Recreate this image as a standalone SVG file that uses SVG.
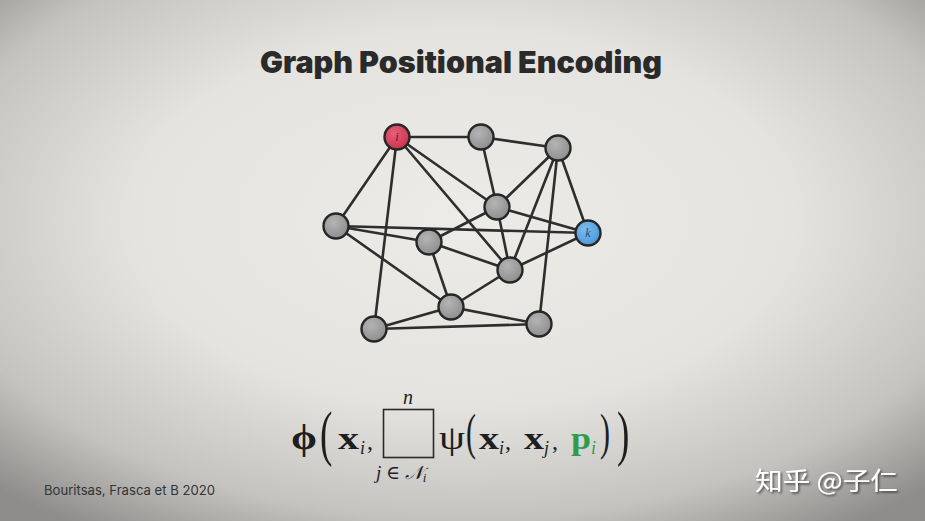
<svg xmlns="http://www.w3.org/2000/svg" width="925" height="521" viewBox="0 0 925 521">
  <defs>
    <radialGradient id="bg" cx="50%" cy="42%" r="72%">
      <stop offset="0" stop-color="#ecebe8"/>
      <stop offset="0.5" stop-color="#e4e3e0"/>
      <stop offset="0.8" stop-color="#c4c3c0"/>
      <stop offset="1" stop-color="#8e8d8b"/>
    </radialGradient>
    <radialGradient id="gray" cx="40%" cy="35%" r="70%">
      <stop offset="0" stop-color="#b4b4b4"/>
      <stop offset="1" stop-color="#8c8c8c"/>
    </radialGradient>
    <radialGradient id="red" cx="40%" cy="35%" r="70%">
      <stop offset="0" stop-color="#e8607a"/>
      <stop offset="1" stop-color="#c8304a"/>
    </radialGradient>
    <radialGradient id="blue" cx="40%" cy="35%" r="70%">
      <stop offset="0" stop-color="#7dbcf0"/>
      <stop offset="1" stop-color="#4a96d8"/>
    </radialGradient>
    <filter id="shadow" x="-10%" y="-20%" width="130%" height="150%">
      <feDropShadow dx="1.5" dy="1.5" stdDeviation="1" flood-color="#000" flood-opacity="0.6"/>
    </filter>
  </defs>
  <style>
    .edge { stroke: #2e2e2e; stroke-width: 2.6; stroke-linecap: round; fill: none; }
    .node { stroke: #262626; stroke-width: 2.4; }
    .lbl { font-family: "Liberation Serif", serif; font-style: italic; font-size: 12px; text-anchor: middle; }
    .m { font-family: "Liberation Serif", "DejaVu Serif", serif; fill: #1e1e1e; }
    .m.g { fill: #2f9c4c; }
    .b { font-weight: bold; }
    .it { font-style: italic; }
  </style>
  <rect width="925" height="521" fill="url(#bg)"/>

  <text x="461" y="73" text-anchor="middle" font-family="Inter, Lato, sans-serif" font-weight="900" font-size="30" fill="#2a2a2a" textLength="402" lengthAdjust="spacingAndGlyphs">Graph Positional Encoding</text>

  <g id="edges">
    <line class="edge" x1="397" y1="137" x2="481" y2="137"/>
    <line class="edge" x1="481" y1="137" x2="558" y2="148"/>
    <line class="edge" x1="397" y1="137" x2="336" y2="226"/>
    <line class="edge" x1="397" y1="137" x2="374" y2="329"/>
    <line class="edge" x1="397" y1="137" x2="497" y2="207"/>
    <line class="edge" x1="397" y1="137" x2="510" y2="270"/>
    <line class="edge" x1="481" y1="137" x2="497" y2="207"/>
    <line class="edge" x1="558" y1="148" x2="497" y2="207"/>
    <line class="edge" x1="558" y1="148" x2="510" y2="270"/>
    <line class="edge" x1="558" y1="148" x2="588" y2="233"/>
    <line class="edge" x1="558" y1="148" x2="539" y2="324"/>
    <line class="edge" x1="497" y1="207" x2="429" y2="242"/>
    <line class="edge" x1="497" y1="207" x2="588" y2="233"/>
    <line class="edge" x1="497" y1="207" x2="510" y2="270"/>
    <line class="edge" x1="336" y1="226" x2="588" y2="233"/>
    <line class="edge" x1="336" y1="226" x2="429" y2="242"/>
    <line class="edge" x1="336" y1="226" x2="451" y2="307"/>
    <line class="edge" x1="429" y1="242" x2="510" y2="270"/>
    <line class="edge" x1="429" y1="242" x2="451" y2="307"/>
    <line class="edge" x1="510" y1="270" x2="588" y2="233"/>
    <line class="edge" x1="510" y1="270" x2="451" y2="307"/>
    <line class="edge" x1="451" y1="307" x2="374" y2="329"/>
    <line class="edge" x1="451" y1="307" x2="539" y2="324"/>
    <line class="edge" x1="374" y1="329" x2="539" y2="324"/>
  </g>

  <g id="node-i"><circle class="node" cx="397" cy="137" r="12.5" fill="url(#red)"/><text class="lbl" x="397" y="141" fill="#6a1020">i</text></g>
  <g id="node-a"><circle class="node" cx="481" cy="137" r="12.5" fill="url(#gray)"/></g>
  <g id="node-b"><circle class="node" cx="558" cy="148" r="12.5" fill="url(#gray)"/></g>
  <g id="node-c"><circle class="node" cx="497" cy="207" r="12.5" fill="url(#gray)"/></g>
  <g id="node-d"><circle class="node" cx="336" cy="226" r="12.5" fill="url(#gray)"/></g>
  <g id="node-k"><circle class="node" cx="588" cy="233" r="12.5" fill="url(#blue)"/><text class="lbl" x="588" y="237" fill="#1d4a78">k</text></g>
  <g id="node-e"><circle class="node" cx="429" cy="242" r="12.5" fill="url(#gray)"/></g>
  <g id="node-f"><circle class="node" cx="510" cy="270" r="12.5" fill="url(#gray)"/></g>
  <g id="node-g"><circle class="node" cx="451" cy="307" r="12.5" fill="url(#gray)"/></g>
  <g id="node-h"><circle class="node" cx="374" cy="329" r="12.5" fill="url(#gray)"/></g>
  <g id="node-j"><circle class="node" cx="539" cy="324" r="12.5" fill="url(#gray)"/></g>

  <g id="formula">
    <text class="m b" x="291" y="449" font-size="35" font-family="'DejaVu Serif', serif" textLength="26" lengthAdjust="spacingAndGlyphs">ϕ</text>
    <text class="m" transform="translate(320,454) scale(0.6,1)" font-size="62">(</text>
    <text class="m b" x="338" y="449" font-size="32" textLength="21" lengthAdjust="spacingAndGlyphs">x</text>
    <text class="m it" x="360" y="454" font-size="18">i</text>
    <text class="m" x="367" y="449" font-size="24">,</text>
    <rect x="383.5" y="409.5" width="50" height="48" fill="none" stroke="#2a2a2a" stroke-width="1.6"/>
    <text class="m it" x="408" y="404" font-size="20" text-anchor="middle">n</text>
    <text class="m it" x="376" y="479" font-size="19">j <tspan font-style="normal">∈</tspan> 𝒩<tspan font-size="13" dy="3">i</tspan></text>
    <text class="m" x="439" y="449" font-size="34" textLength="26" lengthAdjust="spacingAndGlyphs">ψ</text>
    <text class="m" transform="translate(466,449) scale(0.6,1)" font-size="50">(</text>
    <text class="m b" x="479" y="449" font-size="32" textLength="20" lengthAdjust="spacingAndGlyphs">x</text>
    <text class="m it" x="499" y="454" font-size="18">i</text>
    <text class="m" x="505" y="449" font-size="24">,</text>
    <text class="m b" x="524" y="449" font-size="32" textLength="20" lengthAdjust="spacingAndGlyphs">x</text>
    <text class="m it" x="544" y="454" font-size="18">j</text>
    <text class="m" x="552" y="449" font-size="24">,</text>
    <text class="m b g" x="571" y="449" font-size="32" textLength="20" lengthAdjust="spacingAndGlyphs">p</text>
    <text class="m it g" x="591" y="454" font-size="18">i</text>
    <text class="m" transform="translate(600,449) scale(0.6,1)" font-size="50">)</text>
    <text class="m" transform="translate(617,454) scale(0.6,1)" font-size="62">)</text>
  </g>

  <text x="44" y="495" font-family="Inter, 'Liberation Sans', sans-serif" font-size="13" fill="#333" textLength="171" lengthAdjust="spacingAndGlyphs">Bouritsas, Frasca et B 2020</text>

  <text x="755" y="490" font-family="'Noto Sans CJK SC', sans-serif" font-size="25" fill="#ffffff" filter="url(#shadow)" textLength="143" lengthAdjust="spacingAndGlyphs">知乎 @子仁</text>
</svg>
